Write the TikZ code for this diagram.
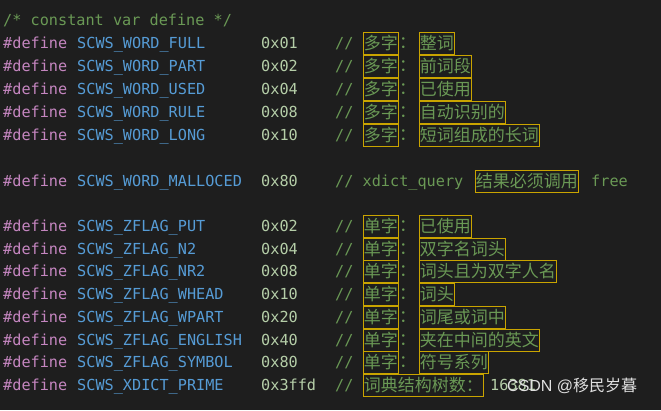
\documentclass[tikz,border=0pt]{standalone}
\usepackage{fontspec}
\setmonofont{DejaVu Sans Mono}
\newfontfamily\cjk{Noto Sans CJK SC}
\newfontfamily\wm{Liberation Sans}
\definecolor{bg}{HTML}{1E1E1E}
\definecolor{cmt}{HTML}{6A9955}
\definecolor{kw}{HTML}{C586C0}
\definecolor{mac}{HTML}{569CD6}
\definecolor{num}{HTML}{B5CEA8}
\definecolor{bx}{HTML}{C9A400}
\begin{document}
\begin{tikzpicture}[x=1pt,y=-1pt,
  code/.style={anchor=base west,inner sep=0,font=\ttfamily\fontsize{15.2}{16}\selectfont},
  cj/.style={anchor=west,inner sep=0,text=cmt,font=\cjk\fontsize{17}{18}\selectfont},
  cjbox/.style={cj,draw=bx,line width=0.9pt,minimum height=22,inner xsep=0.5},
]
\fill[bg] (0,0) rectangle (661,410);
\useasboundingbox (0,0) rectangle (661,410);
\node[code,text=cmt] (c0) at (3,25) {/* constant var define */};
\foreach \y/\nm/\v/\p/\t [count=\i] in {
 43/WORD\_FULL/0x01/多字/整词,
 66/WORD\_PART/0x02/多字/前词段,
 89/WORD\_USED/0x04/多字/已使用,
 112/WORD\_RULE/0x08/多字/自动识别的,
 135/WORD\_LONG/0x10/多字/短词组成的长词,
 226/ZFLAG\_PUT/0x02/单字/已使用,
 249/ZFLAG\_N2/0x04/单字/双字名词头,
 271/ZFLAG\_NR2/0x08/单字/词头且为双字人名,
 294/ZFLAG\_WHEAD/0x10/单字/词头,
 317/ZFLAG\_WPART/0x20/单字/词尾或词中,
 340/ZFLAG\_ENGLISH/0x40/单字/夹在中间的英文,
 362/ZFLAG\_SYMBOL/0x80/单字/符号系列}{
  \node[code,text=kw] (d\i) at (3,\y+5) {\#define};
  \node[code,text=mac] (n\i) at (77,\y+5) {SCWS\_\nm};
  \node[code,text=num] (v\i) at (261,\y+5) {\v};
  \node[code,text=cmt] (s\i) at (335,\y+5) {//};
  \node[cjbox] (p\i) at (363,\y) {\p};
  \node[cj] (k\i) at (399,\y) {：};
  \node[cjbox] (t\i) at (419,\y) {\t};
}
% MALLOCED
\node[code,text=kw] (dm) at (3,186) {\#define};
\node[code,text=mac] (nm) at (77,186) {SCWS\_WORD\_MALLOCED};
\node[code,text=num] (vm) at (261,186) {0x80};
\node[code,text=cmt] (sm) at (335,186) {// xdict\_query};
\node[cjbox] (bm) at (475,181) {结果必须调用};
\node[code,text=cmt] (fm) at (591,186) {free};
% PRIME
\node[code,text=kw] (dp) at (3,390) {\#define};
\node[code,text=mac] (np) at (77,390) {SCWS\_XDICT\_PRIME};
\node[code,text=num] (vp) at (261,390) {0x3ffd};
\node[code,text=cmt] (sp) at (335,390) {//};
\node[cjbox] (bp) at (363,385) {词典结构树数：};
\node[code,text=num] (np2) at (490,390) {16381};
\node[anchor=base west,inner sep=0,text=white!88!black,font=\wm\fontsize{16}{18}\selectfont] (w) at (507,391) {CSDN @{\cjk 移民岁暮}};
\end{tikzpicture}
\end{document}
